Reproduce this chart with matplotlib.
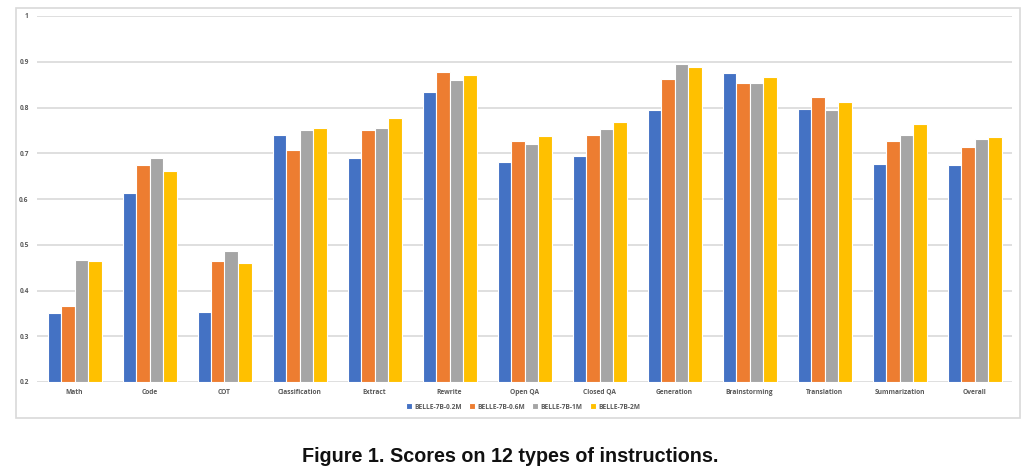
import numpy as np
import matplotlib
matplotlib.use("Agg")
import matplotlib.pyplot as plt
from matplotlib.patches import Rectangle

# Scores per instruction type
categories = ["Math", "Code", "COT", "Classification", "Extract", "Rewrite",
              "Open QA", "Closed QA", "Generation", "Brainstorming",
              "Translation", "Summarization", "Overall"]
belle_02m = [0.350, 0.614, 0.352, 0.739, 0.690, 0.833, 0.681, 0.693, 0.795, 0.875, 0.796, 0.676, 0.674]
belle_06m = [0.367, 0.674, 0.464, 0.707, 0.751, 0.878, 0.726, 0.740, 0.862, 0.853, 0.822, 0.727, 0.714]
belle_1m = [0.467, 0.690, 0.486, 0.751, 0.756, 0.860, 0.721, 0.754, 0.896, 0.854, 0.794, 0.740, 0.731]
belle_2m = [0.464, 0.661, 0.460, 0.755, 0.776, 0.871, 0.738, 0.768, 0.889, 0.866, 0.812, 0.763, 0.736]

series = [
    ("BELLE-7B-0.2M", belle_02m, "#4472C4"),
    ("BELLE-7B-0.6M", belle_06m, "#ED7D31"),
    ("BELLE-7B-1M", belle_1m, "#A5A5A5"),
    ("BELLE-7B-2M", belle_2m, "#FFC000"),
]

fig = plt.figure(figsize=(10.29, 4.71), dpi=100)

# light border around the chart area, like the Excel chart frame
fig.patches.append(Rectangle((16 / 1029, 1 - 418 / 471), 1004 / 1029, 410 / 471,
                             transform=fig.transFigure, fill=False,
                             edgecolor="#D9D9D9", linewidth=1.2))

ax = fig.add_axes([37 / 1029, 1 - 382 / 471, 975 / 1029, 366 / 471])

x = np.arange(len(categories))
width = 0.18
for i, (name, vals, color) in enumerate(series):
    ax.bar(x + (i - 1.5) * width, np.array(vals) - 0.2, width, bottom=0.2,
           color=color, edgecolor="white", linewidth=0.8, label=name, zorder=3)

ax.set_xlim(-0.5, len(categories) - 0.5)
ax.set_ylim(0.2, 1.0)
ax.set_yticks([0.2, 0.3, 0.4, 0.5, 0.6, 0.7, 0.8, 0.9, 1.0])
ax.set_yticklabels(["0.2", "0.3", "0.4", "0.5", "0.6", "0.7", "0.8", "0.9", "1"])
ax.set_xticks(x)
ax.set_xticklabels(categories)
ax.grid(axis="y", color="#D9D9D9", linewidth=1.2, zorder=0)
for s in ax.spines.values():
    s.set_visible(False)
ax.tick_params(length=0, labelsize=4.8, labelcolor="#595959")
ax.tick_params(axis="x", pad=5)
ax.tick_params(axis="y", pad=6)
for lbl in ax.get_xticklabels() + ax.get_yticklabels():
    lbl.set_family("Open Sans")
    lbl.set_fontweight("bold")

leg = fig.legend(loc="center", bbox_to_anchor=(523 / 1029, 1 - 407 / 471), ncol=4,
                 frameon=False, prop={"family": "Open Sans", "size": 4.8, "weight": "bold"},
                 handlelength=0.9, handleheight=0.9, handletextpad=0.35, columnspacing=1.1)
for t in leg.get_texts():
    t.set_color("#595959")

fig.text(510 / 1029, 1 - 456 / 471, "Figure 1. Scores on 12 types of instructions.",
         ha="center", va="center", fontsize=14.2, fontweight="bold",
         family="Liberation Sans", color="#111111")

fig.savefig("out.png", dpi=100, facecolor="white")
